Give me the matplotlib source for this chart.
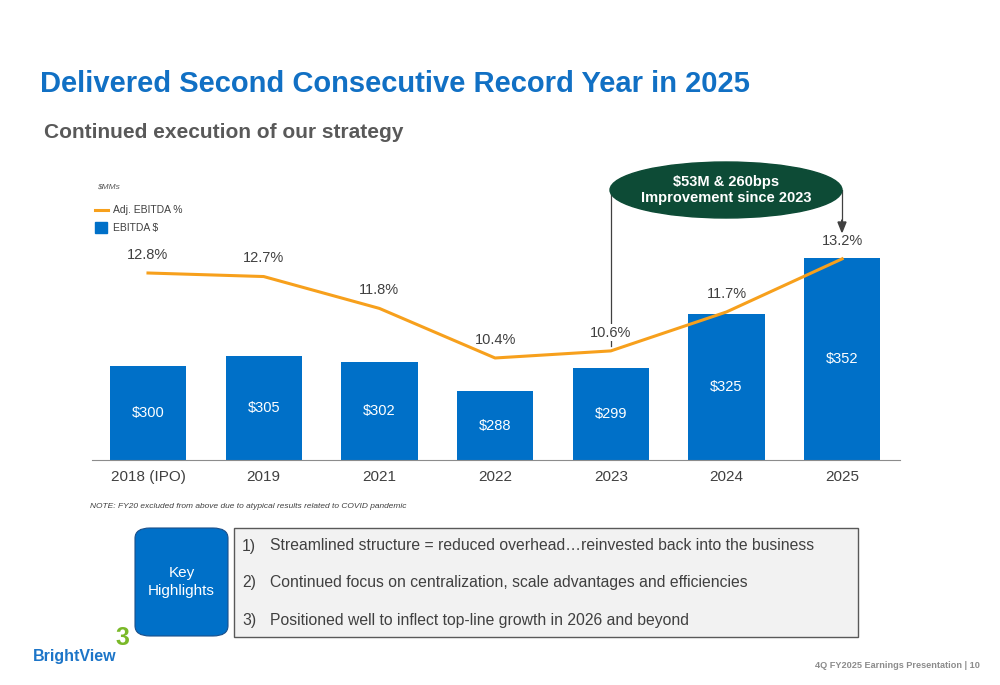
import numpy as np
import matplotlib
matplotlib.use("Agg")
import matplotlib.pyplot as plt
from matplotlib.patches import Ellipse, FancyBboxPatch, Rectangle, FancyArrow
from matplotlib.lines import Line2D
from matplotlib.transforms import blended_transform_factory

# data
years = ["2018 (IPO)", "2019", "2021", "2022", "2023", "2024", "2025"]
ebitda = [300, 305, 302, 288, 299, 325, 352]          # $MMs
margin = [12.8, 12.7, 11.8, 10.4, 10.6, 11.7, 13.2]   # Adj. EBITDA %
highlights = [
    "Streamlined structure = reduced overhead\u2026reinvested back into the business",
    "Continued focus on centralization, scale advantages and efficiencies",
    "Positioned well to inflect top-line growth in 2026 and beyond",
]

plt.rcParams["font.family"] = ["Liberation Sans", "DejaVu Sans"]

blue = "#0070C8"
orange = "#F7A01C"
green = "#0D4B36"
dark = "#404040"

fig = plt.figure(figsize=(10, 6.85), dpi=100)

# headings
fig.text(0.040, 1 - 84 / 685, "Delivered Second Consecutive Record Year in 2025",
         color="#1170C4", fontsize=21, fontweight="bold", va="center")
fig.text(0.044, 1 - 133 / 685, "Continued execution of our strategy",
         color="#595959", fontsize=15, fontweight="bold", va="center")

# main chart
ax = fig.add_axes([0.092, 0.3285, 0.808, 0.4234])
x = np.arange(len(years))
ax.bar(x, ebitda, width=0.66, color=blue, zorder=2)
ax.set_xlim(-0.484, 6.5)
ax.set_ylim(255, 394.4)
for xi, v in zip(x, ebitda):
    ax.text(xi, (255 + v) / 2, f"${v}", color="white", fontsize=10.5,
            ha="center", va="center", zorder=3)
ax.set_xticks(x)
ax.set_xticklabels(years, fontsize=11, color=dark)
ax.tick_params(axis="x", length=0, pad=7)
ax.set_yticks([])
for s in ["top", "right", "left"]:
    ax.spines[s].set_visible(False)
ax.spines["bottom"].set_color("#8c8c8c")

ax2 = ax.twinx()
ax2.plot(x, margin, color=orange, lw=2.2, zorder=4)
ax2.set_ylim(7.52, 15.71)
ax2.set_yticks([])
for s in ax2.spines.values():
    s.set_visible(False)
for xi, m in zip(x, margin):
    ax2.annotate(f"{m:.1f}%", (xi, m), xytext=(0, 13), textcoords="offset points",
                 ha="center", va="center", fontsize=10.5, color=dark,
                 bbox=dict(boxstyle="square,pad=0.1", fc="white", ec="none"),
                 zorder=3)

# legend
fig.text(0.097, 1 - 187 / 685, "$MMs", fontsize=6, style="italic", color="#595959",
         va="center")
fig.add_artist(Line2D([0.095, 0.108], [1 - 210 / 685] * 2, color=orange, lw=2.2))
fig.text(0.113, 1 - 210 / 685, "Adj. EBITDA %", fontsize=7.5, color=dark, va="center")
fig.add_artist(Rectangle((0.095, 1 - 233 / 685), 0.012, 11 / 685, color=blue))
fig.text(0.113, 1 - 228 / 685, "EBITDA $", fontsize=7.5, color=dark, va="center")

# callout
ey = 1 - 190 / 685
tr = blended_transform_factory(ax2.transData, fig.transFigure)
ax2.plot([4, 4], [ey, 1 - 346 / 685], transform=tr, color="#404040", lw=0.9,
         zorder=1, clip_on=False)
fig.add_artist(Line2D([0.842, 0.842], [ey, 1 - 222 / 685], color="#404040", lw=0.9))
fig.add_artist(FancyArrow(0.842, 1 - 220 / 685, 0, -12 / 685, width=0.0005,
                          head_width=0.008, head_length=10 / 685,
                          length_includes_head=True, color="#404040"))
fig.add_artist(Ellipse((0.726, ey), 0.232, 56 / 685, color=green, zorder=5))
fig.text(0.726, ey, "$53M & 260bps\nImprovement since 2023", color="white",
         fontsize=10.5, fontweight="bold", ha="center", va="center", zorder=6,
         linespacing=1.15)

fig.text(0.090, 1 - 507 / 685,
         "NOTE: FY20 excluded from above due to atypical results related to COVID pandemic",
         fontsize=6, style="italic", color="#404040", va="center")

# key highlights
fig.add_artist(FancyBboxPatch((0.135, 1 - 636 / 685), 0.093, 108 / 685,
                              boxstyle="round,pad=0,rounding_size=0.015",
                              fc=blue, ec="#1a4f8a", lw=0.8))
fig.text(0.1815, 1 - 582 / 685, "Key\nHighlights", color="white", fontsize=11,
         ha="center", va="center", linespacing=1.3)
fig.add_artist(Rectangle((0.234, 1 - 637 / 685), 0.624, 109 / 685,
                         fc="#F2F2F2", ec="#595959", lw=1))
for i, (t, yy) in enumerate(zip(highlights, [546, 582, 621])):
    fig.text(0.242, 1 - yy / 685, f"{i + 1})", fontsize=11.3, color=dark, va="center")
    fig.text(0.270, 1 - yy / 685, t, fontsize=11.3, color=dark, va="center")

# logo and footer
fig.text(0.033, 1 - 656 / 685, "BrightView", color="#1C75C8", fontsize=11.5,
         fontweight="bold", va="center")
fig.text(0.122, 1 - 638 / 685, "3", color="#7AB929", fontsize=18, fontweight="bold",
         ha="center", va="center")
fig.text(0.980, 1 - 665 / 685, "4Q FY2025 Earnings Presentation | 10", color="#8c8c8c",
         fontsize=6.6, fontweight="bold", ha="right", va="center")

fig.savefig("out.png", dpi=100)
